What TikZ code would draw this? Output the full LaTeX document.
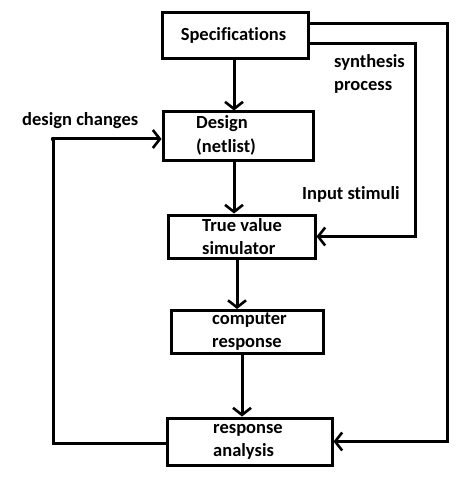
\documentclass[tikz,border=0pt]{standalone}
\usepackage{fontspec}
\setmainfont{Carlito}[Ligatures=NoCommon]
\usetikzlibrary{arrows.meta}
\begin{document}
\begin{tikzpicture}[x=1pt,y=-1pt,
  box/.style={draw=black, line width=3pt, rectangle, inner sep=0pt},
  txt/.style={font=\bfseries\fontsize{18.5}{23.5}\selectfont, align=left, inner sep=0pt, text=black},
  conn/.style={line width=3pt, draw=black},
  arr/.style={conn, -{Straight Barb[length=7pt,width=18pt,line width=2.6pt]}},
]
\useasboundingbox (0,0) rectangle (474,481);
\fill[white] (0,0) rectangle (474,481);
% boxes
\node[box, minimum width=146pt, minimum height=46pt] (spec) at (235,36) {};
\node[box, minimum width=150pt, minimum height=48pt] (design) at (238,136) {};
\node[box, minimum width=147pt, minimum height=43pt] (tvs) at (241.5,236.5) {};
\node[box, minimum width=152pt, minimum height=43pt] (cr) at (247,332) {};
\node[box, minimum width=165pt, minimum height=47pt] (ra) at (249.5,441.5) {};
% texts
\node[txt] (tspec) at (233.5,35) {Specifications};
\node[txt, anchor=west] (tdesign) at (196,135.5) {Design\\(netlist)};
\node[txt, anchor=west] (ttvs) at (202,236.5) {True value\\simulator};
\node[txt, anchor=west] (tcr) at (212,331.5) {computer\\response};
\node[txt, anchor=west] (tra) at (213,442) {response\\analysis};
\node[txt, anchor=west] (tsyn) at (334,74) {synthesis\\process};
\node[txt, anchor=west] (tin) at (302,194) {Input stimuli};
\node[txt, anchor=west] (tdc) at (22,121) {design changes};
% vertical flow
\draw[arr] (spec.south -| 234,0) -- (design.north -| 234,0);
\draw[arr] (design.south -| 234,0) -- (tvs.north -| 234,0);
\draw[arr] (tvs.south -| 237,0) -- (cr.north -| 237,0);
\draw[arr] (cr.south -| 242,0) -- (ra.north -| 242,0);
% feedback
\coordinate (dc) at (53,139);
\draw[conn] (ra.west |- 0,443) -| (dc);
\draw[arr] (dc) -- (design.west |- dc);
\fill (dc) circle (2.2pt);
% right lines
\coordinate (c1) at (447,24);
\coordinate (c2) at (415,44);
\draw[arr] (spec.east |- c1) -- (c1) -- (c1 |- ra.east) -- (ra.east);
\draw[arr] (spec.east |- c2) -- (c2) -- (c2 |- tvs.east) -- (tvs.east);
\end{tikzpicture}
\end{document}
